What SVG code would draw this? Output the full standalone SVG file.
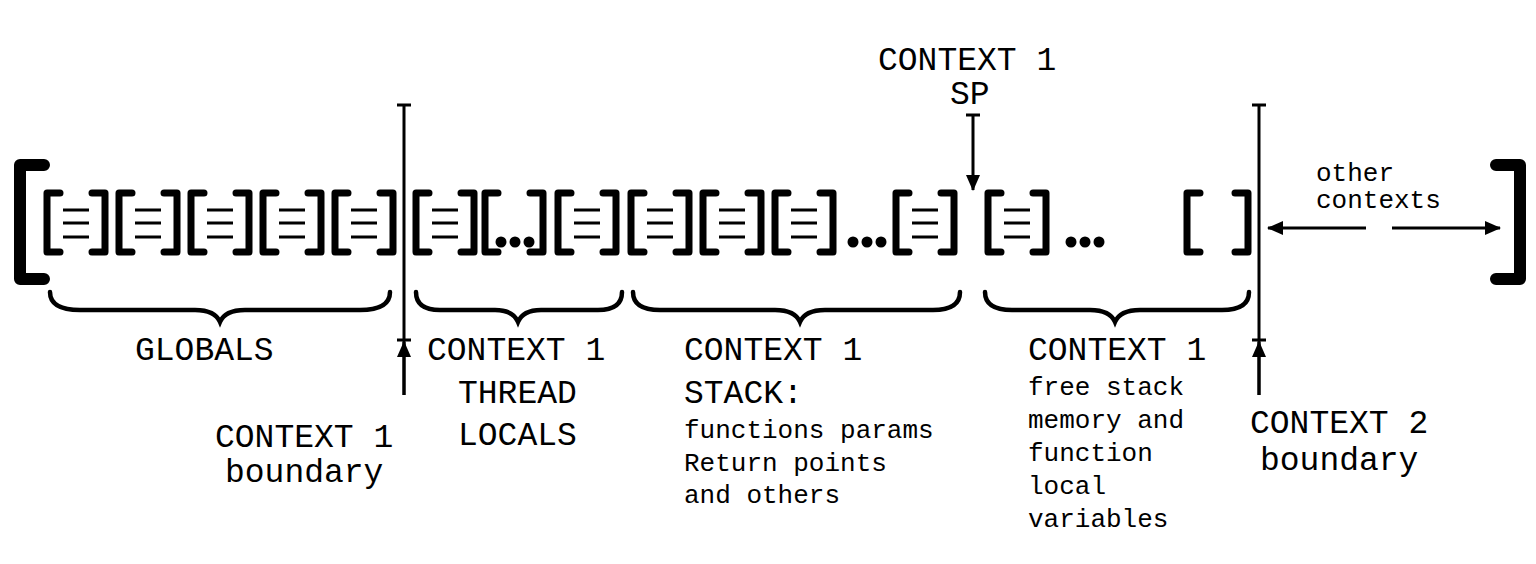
<svg xmlns="http://www.w3.org/2000/svg" width="1536" height="564" viewBox="0 0 1536 564">
<defs>
<style>
.b{fill:none;stroke:#000;stroke-width:7;stroke-linecap:round;stroke-linejoin:round}
.e{stroke:#000;stroke-width:3}
.big{fill:none;stroke:#000;stroke-width:12;stroke-linecap:round;stroke-linejoin:round}
.br{fill:none;stroke:#000;stroke-width:4.5;stroke-linecap:round}
.ln{stroke:#000;stroke-width:3;fill:none}
text{font-family:"Liberation Mono","Courier New",monospace;fill:#000}
.t{font-size:33px}
.s{font-size:26px}
</style>
<marker id="ah" viewBox="0 0 16 14" refX="15" refY="7" markerWidth="16" markerHeight="14" orient="auto" markerUnits="userSpaceOnUse">
<path d="M0,0 L16,7 L0,14 z" fill="#000"/>
</marker>
<g id="cell"><path class="b" d="M16,193 H3 V252 H16 M48,193 H61 V252 H48"/><path class="e" d="M19,210 H45 M19,223 H45 M19,237 H45"/></g>
<g id="dots"><circle cx="6" cy="242" r="5.5"/><circle cx="20" cy="242" r="5.5"/><circle cx="34" cy="242" r="5.5"/></g>
</defs>
<g id="cells">
<use href="#cell" x="44"/><use href="#cell" x="116"/><use href="#cell" x="188"/><use href="#cell" x="260"/><use href="#cell" x="332"/>
<use href="#cell" x="413"/>
<g><path class="b" d="M498,193 H485 V252 H498 M530,193 H543 V252 H530"/><use href="#dots" x="495"/></g>
<use href="#cell" x="555"/>
<use href="#cell" x="628"/><use href="#cell" x="700"/><use href="#cell" x="772"/>
<use href="#dots" x="847"/>
<use href="#cell" x="893"/>
<use href="#cell" x="985"/>
<use href="#dots" x="1065"/>
<path class="b" d="M1200,193 H1187 V252 H1200 M1235,193 H1248 V252 H1235"/>
<path class="big" d="M44,165 H20 V279 H44"/>
<path class="big" d="M1496,165 H1520 V279 H1496"/>
</g>
<g id="braces">
<path class="br" d="M50,292 Q50,310 80,310 H195 Q215,310 220,322 Q225,310 245,310 H360 Q390,310 390,292"/>
<path class="br" d="M416,292 Q416,310 440,310 H495 Q513,310 518,322 Q523,310 541,310 H598 Q622,310 622,292"/>
<path class="br" d="M633,292 Q633,310 660,310 H775 Q795,310 800,322 Q805,310 825,310 H933 Q960,310 960,292"/>
<path class="br" d="M985,292 Q985,310 1012,310 H1090 Q1110,310 1115,322 Q1120,310 1140,310 H1222 Q1249,310 1249,292"/>
</g>
<g id="connectors">
<path class="ln" d="M404,105 V395 M397,105 H411 M397,340 H411"/>
<path class="ln" d="M404,395 V342" marker-end="url(#ah)"/>
<path class="ln" d="M1259,105 V395 M1252,105 H1266 M1252,340 H1266"/>
<path class="ln" d="M1259,395 V342" marker-end="url(#ah)"/>
<path class="ln" d="M966,115 H980 M973,115 V190" marker-end="url(#ah)"/>
<path class="ln" d="M1366,228 H1268" marker-end="url(#ah)"/>
<path class="ln" d="M1392,228 H1500" marker-end="url(#ah)"/>
</g>
<g id="labels">
<text class="t" x="878" y="70">CONTEXT 1</text>
<text class="t" x="950" y="104">SP</text>
<text class="t" x="135" y="360">GLOBALS</text>
<text class="t" x="427" y="360">CONTEXT 1</text>
<text class="t" x="458" y="403">THREAD</text>
<text class="t" x="458" y="445">LOCALS</text>
<text class="t" x="215" y="447">CONTEXT 1</text>
<text class="t" x="225" y="482">boundary</text>
<text class="t" x="684" y="360">CONTEXT 1</text>
<text class="t" x="684" y="403">STACK:</text>
<text class="s" x="684" y="438">functions params</text>
<text class="s" x="684" y="471">Return points</text>
<text class="s" x="684" y="503">and others</text>
<text class="t" x="1028" y="360">CONTEXT 1</text>
<text class="s" x="1028" y="395">free stack</text>
<text class="s" x="1028" y="428">memory and</text>
<text class="s" x="1028" y="461">function</text>
<text class="s" x="1028" y="494">local</text>
<text class="s" x="1028" y="527">variables</text>
<text class="t" x="1250" y="433">CONTEXT 2</text>
<text class="t" x="1260" y="470">boundary</text>
<text class="s" x="1316" y="181">other</text>
<text class="s" x="1316" y="208">contexts</text>
</g>
</svg>
